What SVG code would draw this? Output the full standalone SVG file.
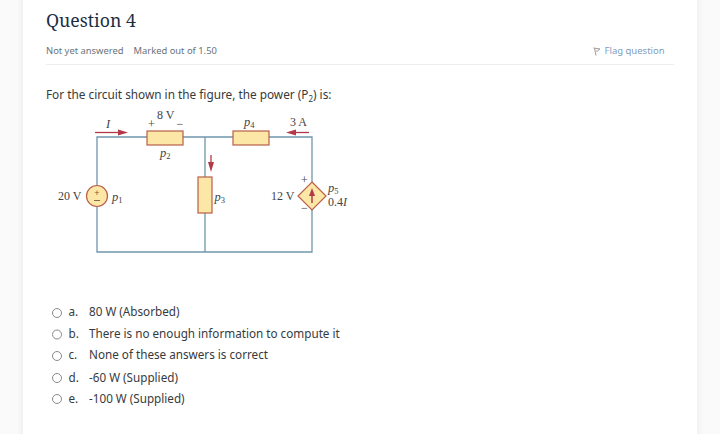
<svg xmlns="http://www.w3.org/2000/svg" width="720" height="434" viewBox="0 0 720 434">
<style>
.ui{font-family:"Noto Sans","Open Sans",sans-serif}
.meta{font-size:9.4px;fill:#6a737b}
.body{font-size:11.8px;fill:#373a3c}
.opt{font-size:11.7px;fill:#373a3c}
.radio{fill:#fff;stroke:#8a8a8a;stroke-width:1}
.wire{fill:none;stroke:#6f97ac;stroke-width:1.3}
.comp{fill:#fde7a6;stroke:#b85f48;stroke-width:1.2}
.arrow{stroke:#b23a48;stroke-width:1.3;fill:none}
.head{fill:#b23a48}
.ct{font-family:"Liberation Serif",serif;font-size:12px;fill:#444}
.ci{font-family:"Liberation Serif",serif;font-size:12.5px;font-style:italic;fill:#444}
.sub{font-size:8.5px;font-style:normal}
</style>
<defs>
<linearGradient id="shadeL" x1="0" x2="1" y1="0" y2="0"><stop offset="0" stop-color="#fafafa"/><stop offset="1" stop-color="#f1f1f1"/></linearGradient>
<linearGradient id="shadeR" x1="0" x2="1" y1="0" y2="0"><stop offset="0" stop-color="#f1f1f1"/><stop offset="1" stop-color="#fafafa"/></linearGradient>
</defs>
<rect width="720" height="434" fill="#fafafa"/>
<rect x="17" y="0" width="6" height="434" fill="url(#shadeL)"/>
<rect x="697" y="0" width="6" height="434" fill="url(#shadeR)"/>
<rect x="23" y="-2" width="674" height="440" fill="#fff"/>
<g id="header">
<text x="46" y="27" font-family="'Noto Serif','DejaVu Serif',serif" font-size="17.7px" fill="#1d2d44">Question 4</text>
<text class="ui meta" x="46" y="54">Not yet answered</text>
<text class="ui meta" x="133.500" y="54">Marked out of 1.50</text>
<path d="M593.500 48L600 49L597.500 51L596 51M594.500 48.500L596 55.500" fill="none" stroke="#9a9a9a" stroke-width="1"/>
<text class="ui" x="604.500" y="54" font-size="9.500px" fill="#7f9cc0">Flag question</text>
<line x1="46" y1="64.500" x2="674" y2="64.500" stroke="#ededed"/>
<text class="ui body" x="46" y="98.500">For the circuit shown in the figure, the power (P<tspan font-size="8px" dy="3">2</tspan><tspan dy="-3">) is:</tspan></text>
</g>
<g id="connectors">
<path class="wire" d="M147 137H97V252H312V137H269M233 137H183M205 137V177M205 213V252"/>
<line class="arrow" x1="95" y1="132.500" x2="122" y2="132.500"/><path class="head" d="M128 132.500L118 129.500V135.500Z"/>
<line class="arrow" x1="309" y1="132.500" x2="292" y2="132.500"/><path class="head" d="M286 132.500L296 129.500V135.500Z"/>
<line class="arrow" x1="211" y1="155" x2="211" y2="166"/><path class="head" d="M211 172L208 162H214Z"/>
</g>
<g id="source-p1">
<circle class="comp" cx="97" cy="196" r="10.500"/>
<text x="97" y="195.500" text-anchor="middle" font-size="9px" fill="#7a5a3a" font-family="Liberation Sans">+</text>
<line x1="94" y1="200.500" x2="100" y2="200.500" stroke="#7a5a3a" stroke-width="0.900"/>
<text class="ct" x="58" y="199.500">20 V</text>
<text class="ci" x="112" y="201">p<tspan class="sub" dy="2">1</tspan></text>
</g>
<g id="resistor-p2">
<rect class="comp" x="147" y="131" width="36" height="14"/>
<text class="ct" x="157" y="118.500">8 V</text>
<text class="ct" x="151.500" y="128" text-anchor="middle">+</text>
<text class="ct" x="180" y="128" text-anchor="middle">−</text>
<text class="ci" x="160" y="157">p<tspan class="sub" dy="2">2</tspan></text>
<text class="ci" x="106" y="128">I</text>
</g>
<g id="resistor-p3">
<rect class="comp" x="198" y="177" width="14" height="36"/>
<text class="ci" x="214.500" y="201">p<tspan class="sub" dy="2">3</tspan></text>
</g>
<g id="resistor-p4">
<rect class="comp" x="233" y="131" width="36" height="14"/>
<text class="ci" x="244" y="126">p<tspan class="sub" dy="2">4</tspan></text>
<text class="ct" x="290" y="126">3 A</text>
</g>
<g id="source-p5">
<path class="comp" d="M312 182L326 196L312 210L298 196Z"/>
<line x1="312" y1="192" x2="312" y2="203" stroke="#b23a48" stroke-width="1.500"/>
<path class="head" d="M312 188L309 196H315Z"/>
<text class="ct" x="304.500" y="184" text-anchor="middle">+</text>
<text class="ct" x="304.500" y="212" text-anchor="middle">−</text>
<text class="ct" x="271" y="199.500">12 V</text>
<text class="ci" x="328" y="192">p<tspan class="sub" dy="2">5</tspan></text>
<text class="ct" x="328" y="206">0.4<tspan font-style="italic">I</tspan></text>
</g>
<g id="options" class="ui">
<circle class="radio" cx="57" cy="313" r="4.500"/><text class="opt" x="68.500" y="315.500">a.</text><text class="opt" x="89" y="315.500">80 W (Absorbed)</text>
<circle class="radio" cx="57" cy="334.500" r="4.500"/><text class="opt" x="68.500" y="337.500">b.</text><text class="opt" x="89" y="337.500">There is no enough information to compute it</text>
<circle class="radio" cx="57" cy="356" r="4.500"/><text class="opt" x="68.500" y="358.500">c.</text><text class="opt" x="89" y="358.500">None of these answers is correct</text>
<circle class="radio" cx="57" cy="378" r="4.500"/><text class="opt" x="68.500" y="381.500">d.</text><text class="opt" x="89" y="381.500">-60 W (Supplied)</text>
<circle class="radio" cx="57" cy="399" r="4.500"/><text class="opt" x="68.500" y="402.500">e.</text><text class="opt" x="89" y="402.500">-100 W (Supplied)</text>
</g>
</svg>
